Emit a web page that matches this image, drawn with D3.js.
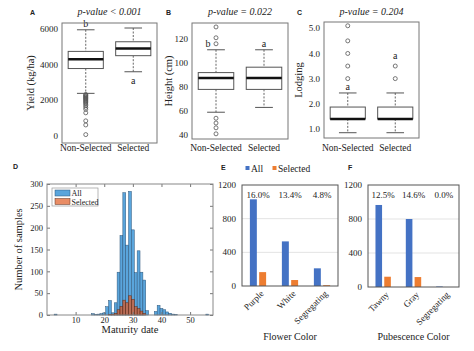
<!DOCTYPE html>
<html>
<head>
<meta charset="utf-8">
<script src="https://cdn.jsdelivr.net/npm/d3@7"></script>
<style>
body { margin: 0; background: #fff; }
text { font-family: "Liberation Serif", "Times New Roman", serif; fill: #222; }
.letter { font-family: "Liberation Sans", Arial, sans-serif; font-weight: bold; font-size: 7px; }
</style>
</head>
<body>
<div id="chart"></div>
<script>
// Box plot data: [lower whisker, Q1, median, Q3, upper whisker]
const groups = ["Non-Selected", "Selected"];

const yieldStats = [[2390, 3780, 4300, 4740, 5950], [3600, 4500, 4900, 5280, 6050]];
const yieldOutliers = [[2330, 2290, 2250, 2210, 2170, 2130, 2090, 2050, 2000, 1950, 1900, 1850, 1780, 1700, 1600, 1500, 1300, 850, 620, 80], []];
const yieldLetters = ["b", "a"];
const yieldLetterVals = [6300, 3100];

const heightStats = [[59, 78, 87.5, 92, 111], [63, 78, 87.5, 96.5, 111]];
const heightOutliers = [[116, 121, 130, 54, 50, 46, 41], []];
const heightLetters = ["b", "a"];
const heightLetterVals = [116.5, 116.5];

const lodgingStats = [[0.85, 1.4, 1.4, 1.87, 2.43], [0.85, 1.4, 1.4, 1.87, 2.43]];
const lodgingOutliers = [[3, 3.5, 4, 4.5, 5.1], [3, 3.5]];
const lodgingLetters = ["a", "a"];
const lodgingLetterVals = [2.68, 3.9];

// Histogram of maturity date
const matDates = [3, 16, 17, 18, 19, 20, 21, 22, 23, 24, 25, 26, 27, 28, 29, 30, 31, 32, 33, 34, 35, 38, 39, 40, 41, 42, 43, 44, 45, 56];
const matAll = [2, 3, 1, 2, 3, 5, 19, 33, 5, 28, 98, 182, 280, 160, 283, 195, 97, 147, 98, 80, 10, 8, 22, 15, 12, 7, 4, 2, 1, 2];
const selDates = [22, 23, 24, 25, 26, 27, 28, 29, 30, 31, 32, 33, 34];
const matSel = [1, 2, 4, 12, 20, 34, 28, 44, 36, 19, 15, 9, 4];

// Bar charts
const flowerCats = ["Purple", "White", "Segregating"];
const flowerAll = [1030, 530, 210];
const flowerSel = [165, 71, 10];
const flowerPct = ["16.0%", "13.4%", "4.8%"];

const pubCats = ["Tawny", "Gray", "Segregating"];
const pubAll = [965, 800, 6];
const pubSel = [121, 117, 0];
const pubPct = ["12.5%", "14.6%", "0.0%"];

const W = 474, H = 351;
const svg = d3.select("#chart").append("svg")
    .attr("width", W)
    .attr("height", H);

// Panel letters
function panelLetter(t, x, y) {
    svg.append("text").attr("class", "letter").attr("x", x).attr("y", y).text(t);
}

// R-style box plot panel
function boxPanel(p) {
    const x = d3.scaleLinear().domain([0.5, 2.5]).range([p.left, p.right]);
    const y = d3.scaleLinear().domain(p.domain).range([p.bottom, p.top]);
    const g = svg.append("g");
    const bw = (x(2) - x(1)) * 0.37;

    g.selectAll(".tick-label")
        .data(p.ticks)
        .enter().append("text")
        .attr("x", p.left - 4)
        .attr("y", d => y(d))
        .attr("dy", "0.35em")
        .attr("text-anchor", "end")
        .attr("font-size", 9)
        .text(p.fmt);

    groups.forEach((name, i) => {
        const s = p.stats[i];
        const cx = x(i + 1);
        g.append("line").attr("x1", cx).attr("x2", cx).attr("y1", y(s[4])).attr("y2", y(s[3]))
            .attr("stroke", "#666").attr("stroke-dasharray", "2,1.5");
        g.append("line").attr("x1", cx).attr("x2", cx).attr("y1", y(s[1])).attr("y2", y(s[0]))
            .attr("stroke", "#666").attr("stroke-dasharray", "2,1.5");
        [s[0], s[4]].forEach(v => {
            g.append("line").attr("x1", cx - bw / 2).attr("x2", cx + bw / 2).attr("y1", y(v)).attr("y2", y(v))
                .attr("stroke", "#555");
        });
        g.append("rect")
            .attr("x", cx - bw).attr("y", y(s[3]))
            .attr("width", bw * 2).attr("height", y(s[1]) - y(s[3]))
            .attr("fill", "#fff").attr("stroke", "#555");
        g.append("line").attr("x1", cx - bw).attr("x2", cx + bw).attr("y1", y(s[2])).attr("y2", y(s[2]))
            .attr("stroke", "#111").attr("stroke-width", 2.5);
        g.selectAll(".out" + i)
            .data(p.outliers[i])
            .enter().append("circle")
            .attr("cx", cx).attr("cy", d => y(d)).attr("r", 2)
            .attr("fill", "none").attr("stroke", "#555").attr("stroke-width", 0.8);
        g.append("text")
            .attr("x", cx + (p.letterDx ? p.letterDx[i] : 0))
            .attr("y", y(p.letterVals[i]))
            .attr("dy", "0.35em")
            .attr("text-anchor", "middle")
            .attr("font-size", 10)
            .text(p.letters[i]);
        g.append("text")
            .attr("x", cx).attr("y", 151)
            .attr("text-anchor", "middle")
            .attr("font-size", 9.5)
            .text(name);
    });

    g.append("rect")
        .attr("x", p.left).attr("y", p.top)
        .attr("width", p.right - p.left).attr("height", p.bottom - p.top)
        .attr("fill", "none").attr("stroke", "#777");

    g.append("text")
        .attr("x", (p.left + p.right) / 2).attr("y", 15)
        .attr("text-anchor", "middle")
        .attr("font-size", 10)
        .attr("font-style", "italic")
        .text(p.title);

    g.append("text")
        .attr("transform", `translate(${p.ylabX},${(p.top + p.bottom) / 2}) rotate(-90)`)
        .attr("text-anchor", "middle")
        .attr("dy", "0.35em")
        .attr("font-size", 10.5)
        .text(p.ylabel);
}

boxPanel({
    left: 62, right: 157, top: 23, bottom: 143,
    domain: [-390, 6330], ticks: [0, 2000, 4000, 6000], fmt: d => d,
    stats: yieldStats, outliers: yieldOutliers,
    letters: yieldLetters, letterVals: yieldLetterVals,
    title: "p-value < 0.001", ylabel: "Yield (kg/ha)", ylabX: 30
});
boxPanel({
    left: 192, right: 288, top: 23, bottom: 139,
    domain: [36.7, 133.3], ticks: [40, 60, 80, 100, 120], fmt: d => d,
    stats: heightStats, outliers: heightOutliers,
    letters: heightLetters, letterVals: heightLetterVals, letterDx: [-8, 0],
    title: "p-value = 0.022", ylabel: "Height (cm)", ylabX: 168
});
boxPanel({
    left: 324, right: 419, top: 22, bottom: 138,
    domain: [0.64, 5.25], ticks: [1, 2, 3, 4, 5], fmt: d3.format(".1f"),
    stats: lodgingStats, outliers: lodgingOutliers,
    letters: lodgingLetters, letterVals: lodgingLetterVals,
    title: "p-value = 0.204", ylabel: "Lodging", ylabX: 298
});

panelLetter("A", 30, 15);
panelLetter("B", 166, 15);
panelLetter("C", 297, 15);

// Histogram (D)
function histPanel() {
    const left = 47, right = 213, top = 184, bottom = 315;
    const x = d3.scaleLinear().domain([0, 58]).range([left, right]);
    const y = d3.scaleLinear().domain([0, 300]).range([bottom, top]);
    const g = svg.append("g");

    g.selectAll(".all")
        .data(matDates)
        .enter().append("rect")
        .attr("x", d => x(d - 0.5))
        .attr("width", d => x(d + 0.5) - x(d - 0.5))
        .attr("y", (d, i) => y(matAll[i]))
        .attr("height", (d, i) => bottom - y(matAll[i]))
        .attr("fill", "#5aa5dc")
        .attr("stroke", "#2d5578")
        .attr("stroke-width", 0.5);

    g.selectAll(".sel")
        .data(selDates)
        .enter().append("rect")
        .attr("x", d => x(d - 0.5))
        .attr("width", d => x(d + 0.5) - x(d - 0.5))
        .attr("y", (d, i) => y(matSel[i]))
        .attr("height", (d, i) => bottom - y(matSel[i]))
        .attr("fill", "#e0561e")
        .attr("fill-opacity", 0.7)
        .attr("stroke", "#5a3020")
        .attr("stroke-width", 0.5);

    const xb = g.append("g").attr("transform", `translate(0,${bottom})`)
        .call(d3.axisBottom(x).tickValues([10, 20, 30, 40, 50]).tickSize(-3).tickPadding(2));
    const xt = g.append("g").attr("transform", `translate(0,${top})`)
        .call(d3.axisTop(x).tickValues([10, 20, 30, 40, 50]).tickSize(-3).tickFormat(""));
    const yl = g.append("g").attr("transform", `translate(${left},0)`)
        .call(d3.axisLeft(y).tickValues(d3.range(0, 301, 50)).tickSize(-3).tickPadding(4));
    const yr = g.append("g").attr("transform", `translate(${right},0)`)
        .call(d3.axisRight(y).tickValues(d3.range(0, 301, 50)).tickSize(-3).tickFormat(""));
    [xb, xt, yl, yr].forEach(a => {
        a.select(".domain").remove();
        a.selectAll("line").attr("stroke", "#777");
        a.selectAll("text").attr("font-family", "Liberation Serif, serif").attr("font-size", 8.5).attr("fill", "#222");
    });

    g.append("rect")
        .attr("x", left).attr("y", top)
        .attr("width", right - left).attr("height", bottom - top)
        .attr("fill", "none").attr("stroke", "#888");

    // legend
    g.append("rect").attr("x", 52).attr("y", 188).attr("width", 46).attr("height", 18)
        .attr("fill", "#fff").attr("stroke", "#999").attr("stroke-width", 0.7);
    g.append("rect").attr("x", 55).attr("y", 190).attr("width", 15).attr("height", 6)
        .attr("fill", "#5aa5dc").attr("stroke", "#2d5578").attr("stroke-width", 0.5);
    g.append("rect").attr("x", 55).attr("y", 198.5).attr("width", 15).attr("height", 6)
        .attr("fill", "#e98c64").attr("stroke", "#5a3020").attr("stroke-width", 0.5);
    g.append("text").attr("x", 71.5).attr("y", 196).attr("font-size", 8).text("All");
    g.append("text").attr("x", 71.5).attr("y", 204.5).attr("font-size", 8).text("Selected");

    g.append("text")
        .attr("x", (left + right) / 2).attr("y", 333)
        .attr("text-anchor", "middle").attr("font-size", 10.5)
        .text("Maturity date");
    g.append("text")
        .attr("transform", `translate(18,${(top + bottom) / 2}) rotate(-90)`)
        .attr("text-anchor", "middle").attr("dy", "0.35em")
        .attr("font-size", 10.5)
        .text("Number of samples");
}
histPanel();
panelLetter("D", 13, 169);

// Grouped bar charts (E, F)
function barPanel(p) {
    const x = d3.scaleBand().domain(p.cats).range([p.left, p.right]);
    const xs = d3.scaleBand().domain(["All", "Selected"]).range([0, x.bandwidth()])
        .paddingInner(0.25).paddingOuter(0.85);
    const y = d3.scaleLinear().domain([0, 1200]).range([p.bottom, p.top]);
    const g = svg.append("g");

    g.selectAll(".grid")
        .data([400, 800])
        .enter().append("line")
        .attr("x1", p.left).attr("x2", p.right)
        .attr("y1", d => y(d)).attr("y2", d => y(d))
        .attr("stroke", "#e3e3e3");

    g.selectAll(".yl")
        .data([0, 400, 800, 1200])
        .enter().append("text")
        .attr("x", p.left - 6).attr("y", d => y(d))
        .attr("dy", "0.35em").attr("text-anchor", "end")
        .attr("font-size", 9)
        .text(d => d);

    g.selectAll(".ba")
        .data(p.cats)
        .enter().append("rect")
        .attr("x", d => x(d) + xs("All"))
        .attr("width", xs.bandwidth())
        .attr("y", (d, i) => y(p.all[i]))
        .attr("height", (d, i) => p.bottom - y(p.all[i]))
        .attr("fill", "#4472c4");

    g.selectAll(".bs")
        .data(p.cats)
        .enter().append("rect")
        .attr("x", d => x(d) + xs("Selected"))
        .attr("width", xs.bandwidth())
        .attr("y", (d, i) => y(p.sel[i]))
        .attr("height", (d, i) => p.bottom - y(p.sel[i]))
        .attr("fill", "#ed7d31");

    g.selectAll(".pct")
        .data(p.cats)
        .enter().append("text")
        .attr("x", d => x(d) + x.bandwidth() / 2)
        .attr("y", p.top + 13)
        .attr("text-anchor", "middle")
        .attr("font-size", 9)
        .text((d, i) => p.pct[i]);

    g.selectAll(".cat")
        .data(p.cats)
        .enter().append("text")
        .attr("transform", d => `translate(${x(d) + x.bandwidth() / 2 + 4},${p.bottom + 6}) rotate(-45)`)
        .attr("text-anchor", "end")
        .attr("dy", "0.35em")
        .attr("font-size", 9)
        .text(d => d);

    g.append("rect")
        .attr("x", p.left).attr("y", p.top)
        .attr("width", p.right - p.left).attr("height", p.bottom - p.top)
        .attr("fill", "none").attr("stroke", "#555");

    g.append("text")
        .attr("x", (p.left + p.right) / 2).attr("y", 340)
        .attr("text-anchor", "middle").attr("font-size", 10)
        .text(p.xlabel);
}

barPanel({
    left: 242, right: 338, top: 185, bottom: 286,
    cats: flowerCats, all: flowerAll, sel: flowerSel, pct: flowerPct,
    xlabel: "Flower Color"
});
barPanel({
    left: 368, right: 459, top: 185, bottom: 287,
    cats: pubCats, all: pubAll, sel: pubSel, pct: pubPct,
    xlabel: "Pubescence Color"
});

panelLetter("E", 221, 170);
panelLetter("F", 348, 170);

// Shared legend for E and F
svg.append("rect").attr("x", 245.5).attr("y", 166).attr("width", 4).attr("height", 4).attr("fill", "#4472c4");
svg.append("text").attr("x", 251).attr("y", 172).attr("font-size", 9.5).text("All");
svg.append("rect").attr("x", 272.5).attr("y", 166).attr("width", 4).attr("height", 4).attr("fill", "#ed7d31");
svg.append("text").attr("x", 278).attr("y", 172).attr("font-size", 9.5).text("Selected");
</script>
</body>
</html>
